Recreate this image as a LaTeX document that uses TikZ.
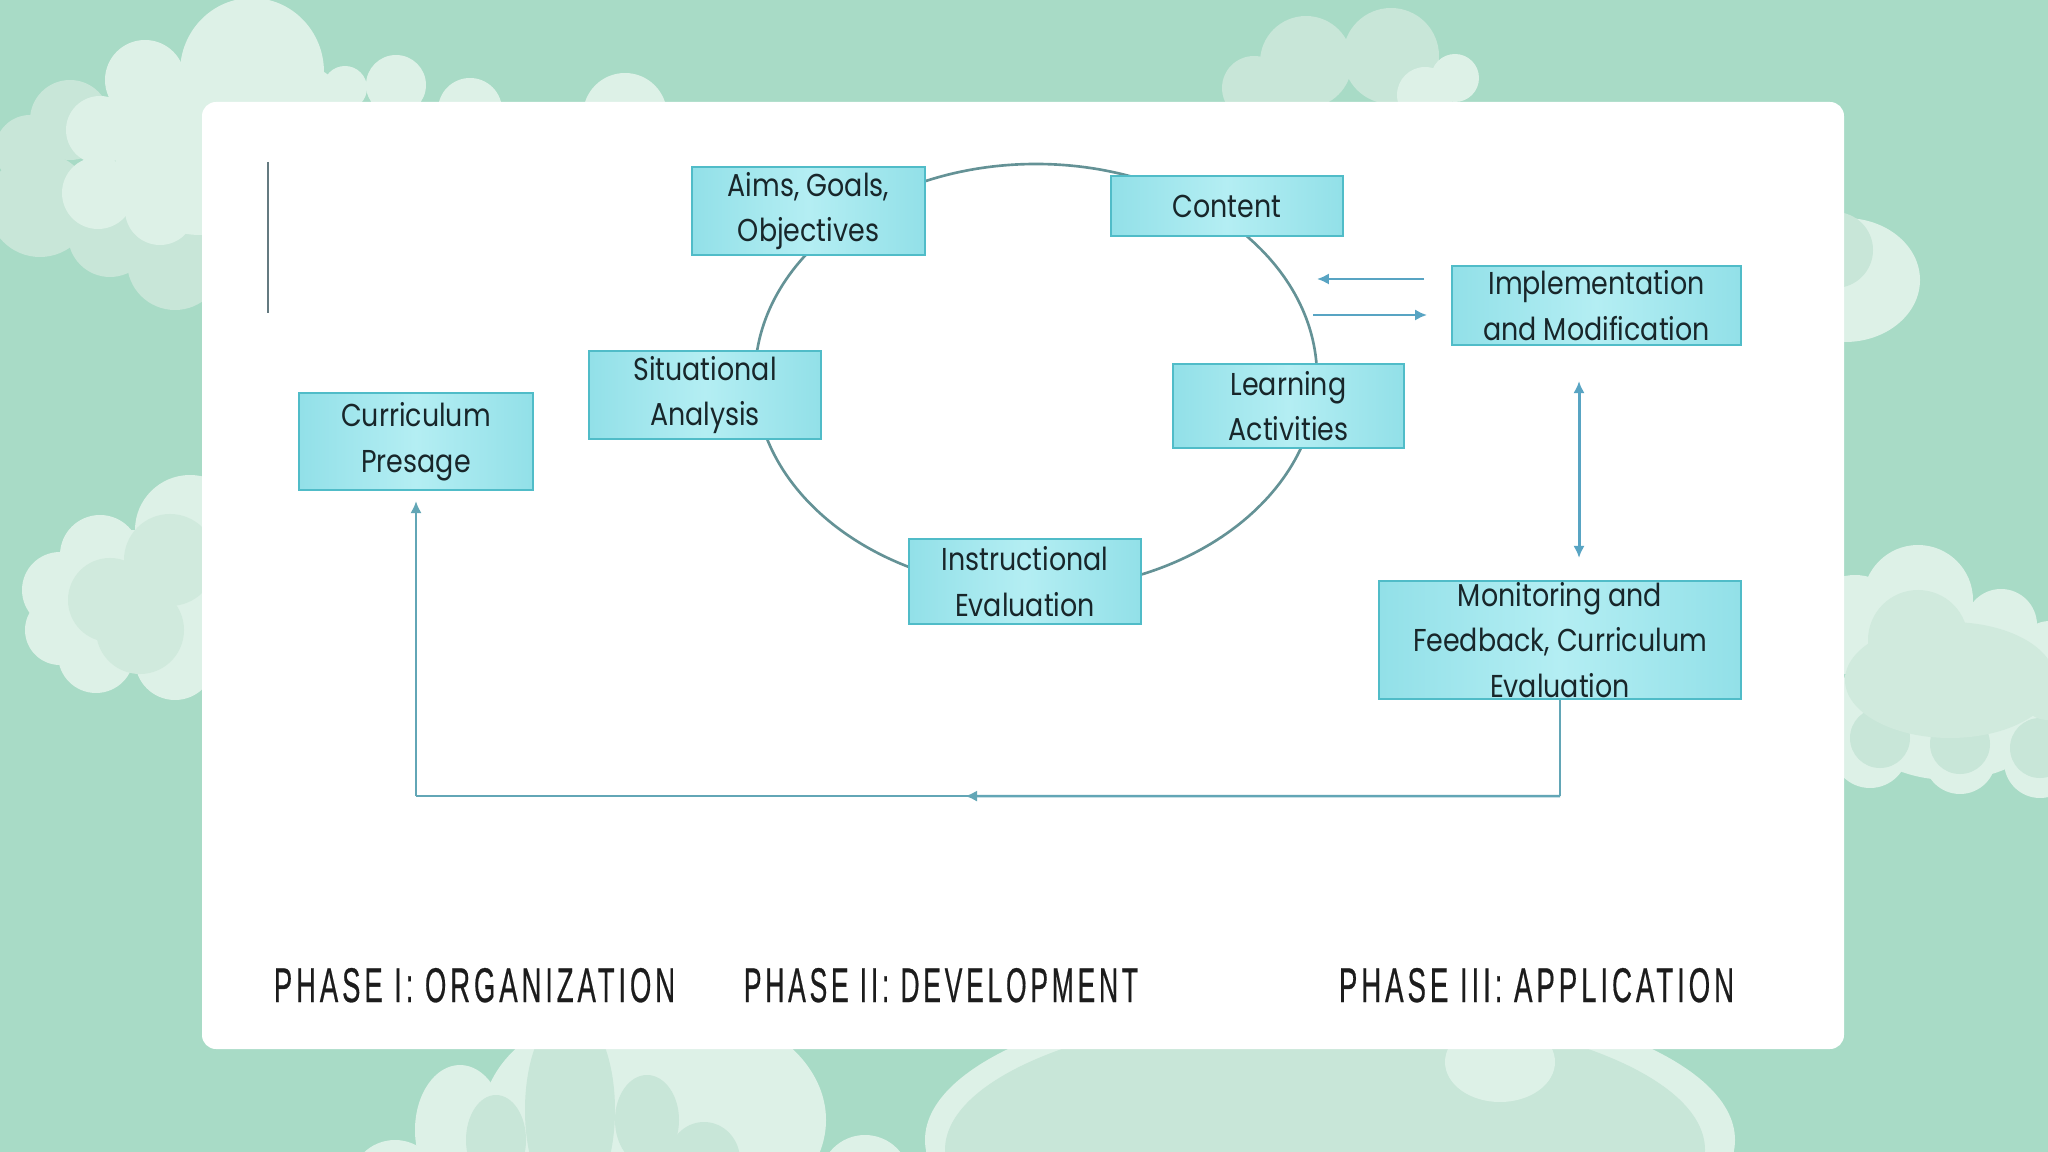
\documentclass[tikz,border=0pt]{standalone}
\usepackage{fontspec}
\usepackage{graphicx}
\newfontfamily\boxfont[FakeStretch=0.85]{Poppins}
\newfontfamily\phasefont[LetterSpace=14.0,FakeBold=0.6]{Liberation Sans}
\usetikzlibrary{arrows.meta,calc}
\definecolor{bgmint}{RGB}{168,219,198}
\definecolor{cloudpale}{RGB}{221,241,231}
\definecolor{cloudmid}{RGB}{200,230,216}
\definecolor{cloudsoft}{RGB}{208,234,221}
\definecolor{cyanA}{RGB}{146,224,232}
\definecolor{cyanB}{RGB}{180,238,243}
\definecolor{boxedge}{RGB}{80,188,200}
\definecolor{ringgray}{RGB}{100,146,150}
\definecolor{arrowblue}{RGB}{88,164,195}
\definecolor{loopteal}{RGB}{98,166,182}
\definecolor{inkdark}{RGB}{24,38,42}
\definecolor{phaseink}{RGB}{28,28,28}
\definecolor{strayline}{RGB}{100,122,128}
\newcommand{\phaselabel}[2]{\resizebox{#1}{0.34cm}{\phasefont #2}}
\tikzset{cue/.tip={Latex[length=3.4pt,width=3.2pt]}}

\begin{document}
\begin{tikzpicture}[x=0.01cm,y=-0.01cm,
    stage/.style={draw=boxedge,line width=0.6pt,left color=cyanA,right color=cyanA,middle color=cyanB,
      inner sep=0pt,align=center,text=inkdark,font=\boxfont\fontsize{9}{13}\selectfont},
    ring/.style={draw=ringgray,line width=0.75pt},
    flow/.style={draw=arrowblue,line width=0.85pt,-cue},
    loopline/.style={draw=loopteal,line width=0.7pt}]
        \fill[bgmint] (0,0) rectangle (2048,1152);
        \useasboundingbox (0,0) rectangle (2048,1152);

% clouds behind the card
\foreach \cx/\cy/\r in {70/120/40, 40/205/52, 110/235/42, 175/262/48, 150/190/70, 30/150/35}
    \fill[cloudmid] (\cx,\cy) circle[radius=\r];
\foreach \cx/\cy/\r in {145/80/40, 100/130/34, 98/193/36, 200/150/85, 345/88/22, 396/85/30, 470/110/32, 625/115/42, 300/110/45, 160/210/35}
    \fill[cloudpale] (\cx,\cy) circle[radius=\r];
\fill[cloudpale] (252,72) ellipse[x radius=72, y radius=74];
\foreach \cx/\cy/\r in {1306/62/46, 1254/88/32, 1391/56/48}
    \fill[cloudmid] (\cx,\cy) circle[radius=\r];
\foreach \cx/\cy/\r in {1455/78/24, 1425/95/28}
    \fill[cloudpale] (\cx,\cy) circle[radius=\r];
\fill[cloudpale] (1845,280) ellipse[x radius=75, y radius=62];
\fill[cloudmid] (1835,250) circle[radius=38];
\foreach \cx/\cy/\r in {1918/600/55, 2001/625/36, 2050/655/34, 1855/625/50, 1870/750/38, 1960/758/36, 2040/762/36}
    \fill[cloudpale] (\cx,\cy) circle[radius=\r];
\fill[cloudpale] (1950,700) ellipse[x radius=110, y radius=80];
\foreach \cx/\cy/\r in {1880/738/30, 1960/744/30, 2040/748/30}
    \fill[cloudmid] (\cx,\cy) circle[radius=\r];
\foreach \cx/\cy/\r in {1918/640/50, 2000/668/30, 2048/690/30}
    \fill[cloudsoft] (\cx,\cy) circle[radius=\r];
\fill[cloudsoft] (1950,680) ellipse[x radius=105, y radius=58];
\foreach \cx/\cy/\r in {190/530/55, 100/555/40, 60/590/38, 60/630/35, 96/655/38, 175/660/40}
    \fill[cloudpale] (\cx,\cy) circle[radius=\r];
\fill[cloudpale] (130,600) ellipse[x radius=80, y radius=70];
\foreach \cx/\cy/\r in {170/560/46, 110/600/42, 140/630/44}
    \fill[cloudsoft] (\cx,\cy) circle[radius=\r];
\fill[cloudpale] (460,1130) ellipse[x radius=45, y radius=65];
\fill[cloudpale] (654,1120) ellipse[x radius=172, y radius=120];
\fill[cloudpale] (865,1180) circle[radius=45];
\fill[cloudpale] (395,1185) circle[radius=45];
\fill[cloudmid] (496,1140) ellipse[x radius=30, y radius=45];
\fill[cloudmid] (570,1110) ellipse[x radius=45, y radius=100];
\fill[cloudmid] (647,1120) ellipse[x radius=32, y radius=45];
\fill[cloudmid] (704,1160) ellipse[x radius=36, y radius=38];
\fill[cloudpale] (1330,1140) ellipse[x radius=405, y radius=150];
\fill[cloudmid] (1325,1150) ellipse[x radius=380, y radius=140];
\fill[cloudpale] (1500,1062) ellipse[x radius=55, y radius=40];

% card
\fill[white,rounded corners=0.14cm] (202,102) rectangle (1844,1049);
\draw[strayline,line width=0.6pt] (268,162) -- (268,313);

% the cycle of phase II
\draw[ring] (1036,377) ellipse[x radius=281, y radius=213];

\node[stage,minimum width=2.33cm,minimum height=0.88cm] (aims) at (808.5,211) {Aims, Goals,\\Objectives};
\node[stage,minimum width=2.32cm,minimum height=0.60cm] (cont) at (1227,206) {Content};
\node[stage,minimum width=2.32cm,minimum height=0.88cm] (situ) at (705,395) {Situational\\Analysis};
\node[stage,minimum width=2.31cm,minimum height=0.84cm] (learn) at (1288.5,406) {Learning\\Activities};
\node[stage,minimum width=2.32cm,minimum height=0.85cm] (instr) at (1025,581.5) {Instructional\\Evaluation};
\node[stage,minimum width=2.34cm,minimum height=0.97cm] (pres) at (416,441.5) {Curriculum\\Presage};
\node[stage,minimum width=2.89cm,minimum height=0.79cm] (impl) at (1596.5,305.5) {Implementation\\and Modification};
\node[stage,minimum width=3.62cm,minimum height=1.18cm] (mon) at (1560,640) {Monitoring and\\Feedback, Curriculum\\Evaluation};

% exchange with implementation
\coordinate (outimpl) at (1424,279);
\coordinate (inring) at (1317,279);
\coordinate (outring) at (1313,315);
\coordinate (inimpl) at (1427,315);
\draw[flow] (outimpl) -- (inring);
\draw[flow] (outring) -- (inimpl);
\coordinate (vx) at (1579,0);
\draw[flow,cue-cue,shorten <=0.35cm,shorten >=0.22cm] (impl.south -| vx) -- (mon.north -| vx);

% feedback loop back to presage
\draw[loopline] (mon.south) -- ++(0,96) coordinate (cr);
\draw[loopline] (cr) -- (cr -| pres.south) coordinate (cl);
\draw[loopline,-cue] (cr) -- ($(cr)!0.52!(cl)$);
\draw[loopline,-cue,shorten >=0.1cm] (cl) -- (pres.south);

\node[anchor=base,inner sep=0pt,text=phaseink] (ph1) at (474.5,1002) {\phaselabel{4.01cm}{PHASE I: ORGANIZATION}};
\node[anchor=base,inner sep=0pt,text=phaseink] (ph2) at (941,1002) {\phaselabel{3.94cm}{PHASE II: DEVELOPMENT}};
\node[anchor=base,inner sep=0pt,text=phaseink] (ph3) at (1536.5,1002) {\phaselabel{3.95cm}{PHASE III: APPLICATION}};
\end{tikzpicture}
\end{document}
